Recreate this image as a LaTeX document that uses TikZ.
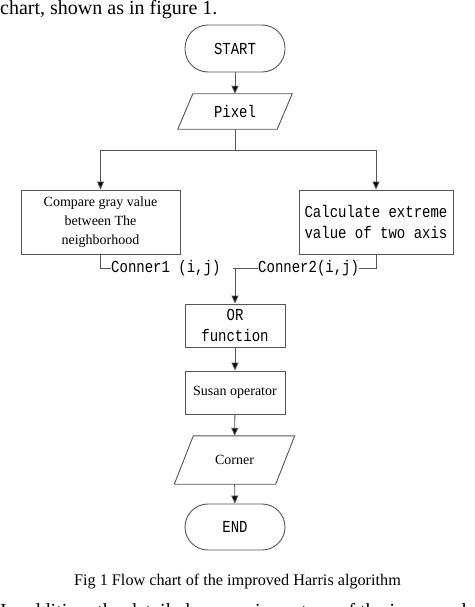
\documentclass[tikz,border=0pt]{standalone}
\usepackage{fontspec}
\setmainfont{Liberation Serif}
\newfontfamily\monof{Liberation Mono}
\usetikzlibrary{arrows.meta,calc}
\definecolor{linegray}{RGB}{85,85,85}
\newcommand{\tl}[1]{\scalebox{1}[1.2]{#1}}
\tikzset{
  flow/.style={draw=linegray, line width=0.9pt},
  arr/.style={flow, -{Triangle[length=8pt,width=7pt,fill=black]}},
  terminal/.style={draw=linegray, line width=0.9pt, minimum width=100pt, rounded corners=23pt, inner sep=0pt, font=\monof\fontsize{14}{16}\selectfont},
  procbox/.style={draw=linegray, line width=0.9pt, inner sep=0pt, align=center},
  iobox/.style={inner sep=0pt},
  serif14/.style={font=\fontsize{14}{19}\selectfont},
  mono14/.style={font=\monof\fontsize{14}{21}\selectfont},
  lbl/.style={inner sep=0pt, font=\monof\fontsize{14}{16}\selectfont}
}
\begin{document}
\begin{tikzpicture}[x=1pt,y=-1pt]
\useasboundingbox (0,0) rectangle (474,607);
% surrounding page text
\node[anchor=base west, inner sep=0pt, font=\fontsize{20}{22}\selectfont] (toptext) at (0,15) {chart, shown as in figure 1.};
\node[anchor=base, inner sep=0pt, font=\fontsize{16.2}{18}\selectfont] (caption) at (237.5,585) {Fig 1 Flow chart of the improved Harris algorithm};
\node[anchor=base west, inner sep=0pt, font=\fontsize{20}{22}\selectfont] (bottomtext) at (0,617) {In addition, the detailed comparison steps of the improved};
% nodes
\node[terminal, minimum height=47pt] (start) at (235,48.5) {\tl{START}};
\node[iobox, minimum width=99pt, minimum height=35pt, mono14] (pixel) at (235,111.5) {\tl{Pixel}};
\draw[flow] ($(pixel.north west)+(7.5,0)$) -- ($(pixel.north east)+(7.5,0)$) -- ($(pixel.south east)+(-7.5,0)$) -- ($(pixel.south west)+(-7.5,0)$) -- cycle;
\node[procbox, minimum width=159pt, minimum height=64pt, serif14] (cmp) at (100.5,222) {Compare gray value\\between The\\neighborhood};
\node[procbox, minimum width=154pt, minimum height=64pt, mono14] (calc) at (376,222) {\tl{Calculate extreme}\\\tl{value of two axis}};
\node[lbl, anchor=west] (c1) at (111,268) {\tl{Conner1 (i,j)}};
\node[lbl, anchor=west] (c2) at (258,268) {\tl{Conner2(i,j)}};
\node[procbox, minimum width=100pt, minimum height=43pt, mono14] (orf) at (235,325.5) {\tl{OR}\\\tl{function}};
\node[procbox, minimum width=100pt, minimum height=43pt, serif14] (susan) at (235,392.5) {Susan operator};
\node[iobox, minimum width=101pt, minimum height=48pt, serif14] (corner) at (234.5,460) {Corner};
\draw[flow] ($(corner.north west)+(9.5,0)$) -- ($(corner.north east)+(9.5,0)$) -- ($(corner.south east)+(-9.5,0)$) -- ($(corner.south west)+(-9.5,0)$) -- cycle;
\node[terminal, minimum height=46pt] (endn) at (235,527) {\tl{END}};
% connectors
\coordinate (split) at (235,150);
\coordinate (join) at (235,268);
\draw[arr] (start) -- (pixel);
\draw[flow] (pixel.south) -- (split);
\draw[arr] (split) -| (cmp.north);
\draw[arr] (split) -| (calc.north);
\draw[flow] (cmp.south) |- (c1.west);
\draw[flow] (calc.south) |- (c2.east);
\draw[flow] (c2.west) -- ($(join)+(-2,0)$);
\draw[arr] (join) -- (orf.north);
\draw[arr] (orf) -- (susan);
\draw[arr] (susan) -- (corner);
\draw[arr] (corner) -- (endn);
\end{tikzpicture}
\end{document}
